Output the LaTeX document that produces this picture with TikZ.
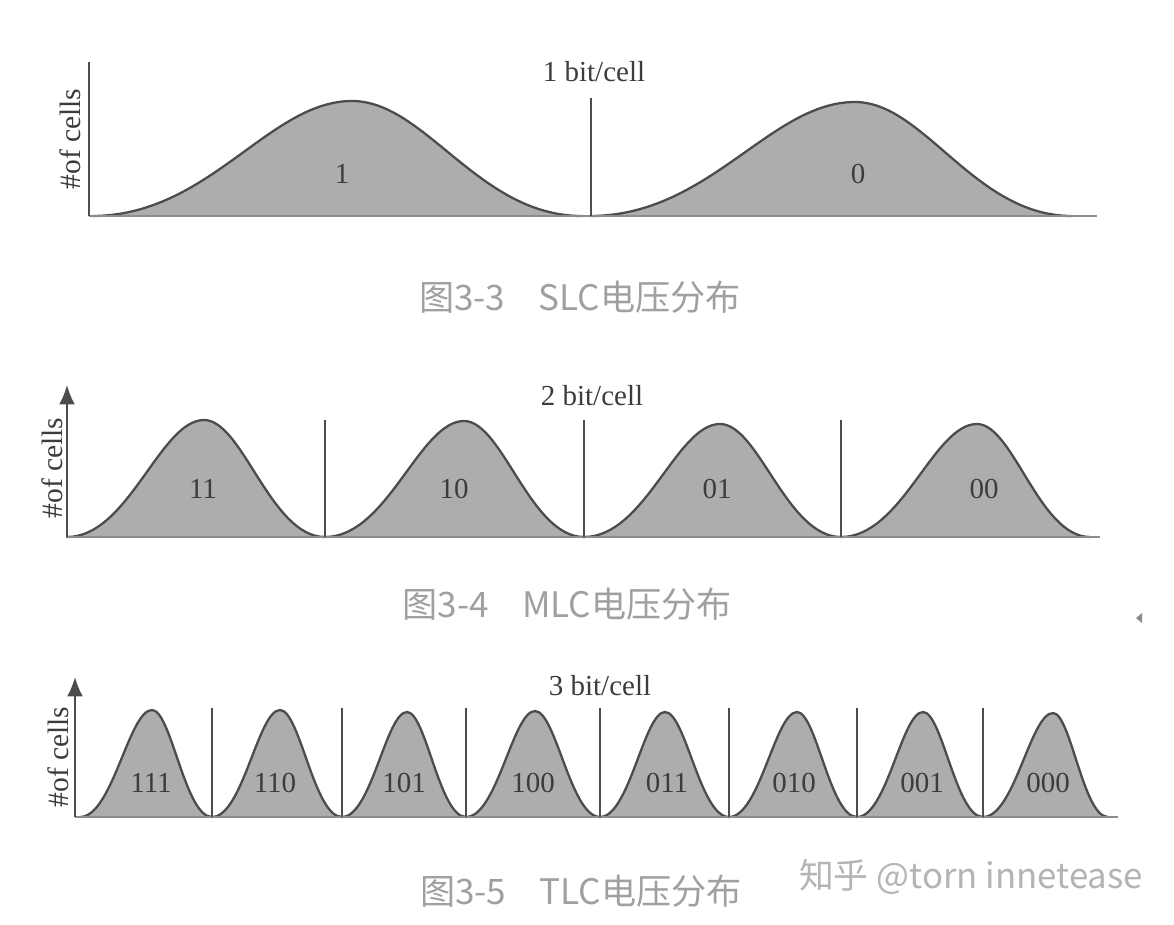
\documentclass[tikz,border=0pt]{standalone}
\usepackage{fontspec}
\setmainfont{Liberation Serif}
\newfontfamily\cjk{Noto Sans CJK SC}
\usetikzlibrary{arrows.meta}
\definecolor{bumpgray}{HTML}{AEADAD}
\definecolor{linegray}{HTML}{4C4C4C}
\definecolor{basegray}{HTML}{8C8C8C}
\definecolor{capgray}{HTML}{A0A0A0}
\definecolor{markgray}{HTML}{B4B4B4}
\definecolor{labelgray}{HTML}{3C3C3C}
\tikzset{
  lbl/.style={text=labelgray, font=\fontsize{16.5}{16.5}\selectfont, inner sep=0pt},
  ylbl/.style={lbl, rotate=90, font=\fontsize{16.8}{16.8}\selectfont},
  captext/.style={text=capgray, font=\cjk\fontsize{20}{20}\selectfont, inner sep=0pt},
  axisline/.style={draw=linegray, line width=1.1pt},
  arrowaxis/.style={axisline, -{Latex[length=11pt,width=9pt]}},
  divline/.style={draw=linegray, line width=1pt},
  baseline/.style={draw=basegray, line width=1.4pt},
  curveline/.style={draw=linegray, line width=1.3pt, line cap=round},
}
% left end, peak x, peak y, right end, base y
\newcommand{\cellbump}[5]{
  \def\bumppath{(#1,#5) .. controls ({#1+0.45*(#2-#1)},#5) and ({#2-0.32*(#2-#1)},#3) .. (#2,#3)
    .. controls ({#2+0.32*(#4-#2)},#3) and ({#4-0.45*(#4-#2)},#5) .. (#4,#5)}
  \fill[bumpgray] \bumppath -- cycle;
  \path[curveline] \bumppath;
}
\begin{document}
\begin{tikzpicture}[x=0.02cm,y=-0.02cm]
  \useasboundingbox (0,0) rectangle (1174,924);

  % SLC
  \cellbump{92}{352}{101}{582}{216}
  \cellbump{590}{855}{102}{1072}{216}
  \coordinate (slcO) at (89,216);
  \coordinate (slcY) at (89,62);
  \coordinate (slcE) at (1097,216);
  \coordinate (slcD) at (591,98);
  \coordinate (slcB) at (591,216);
  \path[baseline] (slcO) -- (slcE);
  \path[axisline] (slcO) -- (slcY);
  \path[divline] (slcB) -- (slcD);
  \node[lbl] (slcT) at (594,72) {1 bit/cell};
  \node[ylbl] (slcL) at (70,139) {\#of cells};
  \node[lbl] (slc1) at (342,174) {1};
  \node[lbl] (slc0) at (858,174) {0};
  \node[captext] (slcC) at (580,297) {图3-3\hspace{0.95em}SLC电压分布};

  % MLC
  \cellbump{67}{204}{420}{325}{537}
  \cellbump{325}{464}{421}{584}{537}
  \cellbump{584}{720}{424}{841}{537}
  \cellbump{841}{977}{424}{1090}{537}
  \coordinate (mlcO) at (67,537);
  \coordinate (mlcY) at (67,385);
  \coordinate (mlcE) at (1100,537);
  \path[baseline] (mlcO) -- (mlcE);
  \path[arrowaxis] (mlcO) -- (mlcY);
  \foreach \x/\n in {325/a,584/b,841/c}{
    \coordinate (mlcB\n) at (\x,537);
    \coordinate (mlcD\n) at (\x,420);
    \path[divline] (mlcB\n) -- (mlcD\n);
  }
  \node[lbl] (mlcT) at (592,396) {2 bit/cell};
  \node[ylbl] (mlcL) at (52,468) {\#of cells};
  \node[lbl] (mlc11) at (203,489) {11};
  \node[lbl] (mlc10) at (454,489) {10};
  \node[lbl] (mlc01) at (717,489) {01};
  \node[lbl] (mlc00) at (984,489) {00};
  \node[captext] (mlcC) at (567,604) {图3-4\hspace{0.95em}MLC电压分布};

  % TLC
  \cellbump{80}{152}{710}{212}{817}
  \cellbump{212}{280}{710}{342}{817}
  \cellbump{342}{407}{712}{466}{817}
  \cellbump{466}{535}{711}{600}{817}
  \cellbump{600}{665}{712}{729}{817}
  \cellbump{729}{797}{712}{857}{817}
  \cellbump{857}{923}{712}{983}{817}
  \cellbump{983}{1053}{713}{1108}{817}
  \coordinate (tlcO) at (75,817);
  \coordinate (tlcY) at (75,677);
  \coordinate (tlcE) at (1118,817);
  \path[baseline] (tlcO) -- (tlcE);
  \path[arrowaxis] (tlcO) -- (tlcY);
  \foreach \x/\n in {212/a,342/b,466/c,600/d,729/e,857/f,983/g}{
    \coordinate (tlcB\n) at (\x,817);
    \coordinate (tlcD\n) at (\x,708);
    \path[divline] (tlcB\n) -- (tlcD\n);
  }
  \node[lbl] (tlcT) at (600,686) {3 bit/cell};
  \node[ylbl] (tlcL) at (58,757) {\#of cells};
  \foreach \x/\t in {151/111,275/110,404/101,533/100,667/011,794/010,922/001,1048/000}{
    \node[lbl] (tlc\t) at (\x,783) {\t};
  }
  \node[captext] (tlcC) at (581,891) {图3-5\hspace{0.95em}TLC电压分布};

  % watermark and corner mark
  \node[text=markgray, font=\cjk\fontsize{19.8}{19.8}\selectfont, inner sep=0pt] (mark) at (971,877) {知乎 @torn innetease};
  \fill[basegray] (1136,618) -- (1142,613) -- (1142,623) -- cycle;
\end{tikzpicture}
\end{document}
